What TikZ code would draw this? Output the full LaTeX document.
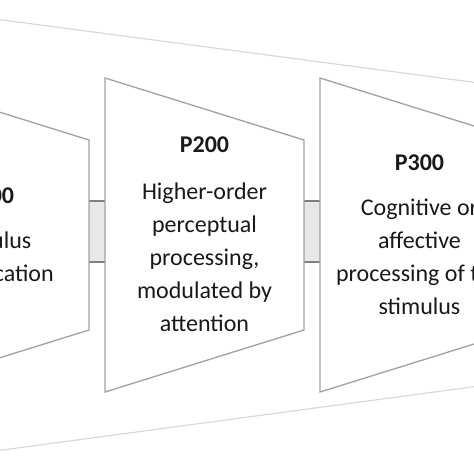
\documentclass[tikz,border=0pt]{standalone}
\usepackage{fontspec}
\setmainfont{Carlito}
\usetikzlibrary{positioning}

\tikzset{
  stagebox/.style={draw=black!37,line width=1.3pt,line join=miter},
  stagetext/.style={align=center,inner sep=0pt,text=black!90,font=\fontsize{24}{33}\selectfont},
  linkfill/.style={fill=black!9},
  linkedge/.style={draw=black!50,line width=1.5pt},
  funnel/.style={draw=black!15,line width=1.2pt}
}

\begin{document}
\begin{tikzpicture}[x=1pt,y=-1pt]
    \useasboundingbox (0,0) rectangle (474,474);
    \clip (0,0) rectangle (474,474);

    % outer funnel
    \draw[funnel] (-20,17) -- (494,85);
    \draw[funnel] (-20,453) -- (494,384);

    % stage corners
    \foreach \i/\L in {1/-110,2/105,3/320} {
      \coordinate (s\i-nw) at (\L,78);
      \coordinate (s\i-ne) at (\L+199,140);
      \coordinate (s\i-se) at (\L+199,330);
      \coordinate (s\i-sw) at (\L,392);
    }

    % links between stages
    \foreach \i/\j in {1/2,2/3} {
      \fill[linkfill] (s\i-ne |- 0,201) rectangle (s\j-nw |- 0,262);
      \draw[linkedge] (s\i-ne |- 0,201) -- (s\j-nw |- 0,201);
      \draw[linkedge] (s\i-ne |- 0,262) -- (s\j-nw |- 0,262);
    }

    % stages
    \foreach \i in {1,2,3}
      \draw[stagebox] (s\i-nw) -- (s\i-ne) -- (s\i-se) -- (s\i-sw) -- cycle;

    \node[stagetext] (txt1) at (-10.5,234.5) {\textbf{P100}\\[12pt]Stimulus\\identification};
    \node[stagetext] (txt2) at (204.5,234.5) {\textbf{P200}\\[14pt]Higher-order\\perceptual\\processing,\\modulated by\\attention};
    \node[stagetext] (txt3) at (419.5,234.5) {\textbf{P300}\\[12pt]Cognitive or\\affective\\processing of the\\stimulus};
\end{tikzpicture}
\end{document}
